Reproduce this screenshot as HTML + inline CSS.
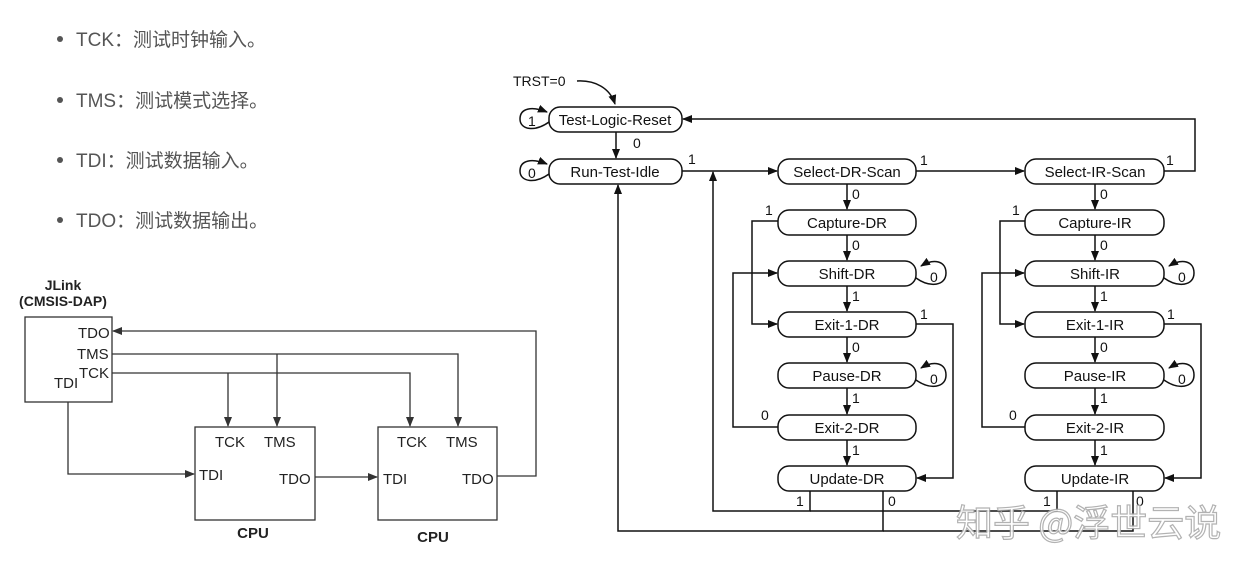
<!DOCTYPE html>
<html><head><meta charset="utf-8"><style>
html,body{margin:0;padding:0;background:#fff;width:1260px;height:572px;overflow:hidden}
svg{display:block}
</style></head><body>
<svg width="1260" height="572" viewBox="0 0 1260 572" xmlns="http://www.w3.org/2000/svg">
<defs>
<marker id="a" markerWidth="10" markerHeight="8" refX="9" refY="4" orient="auto" markerUnits="userSpaceOnUse"><path d="M0,0L10,4L0,8z" fill="#111"/></marker>
<marker id="b" markerWidth="10" markerHeight="8" refX="9" refY="4" orient="auto" markerUnits="userSpaceOnUse"><path d="M0,0L10,4L0,8z" fill="#333"/></marker>
</defs>
<!-- bullets -->
<g font-family="'Liberation Sans','Noto Sans CJK SC',sans-serif" font-size="19" fill="#555">
<circle cx="60" cy="39" r="3" fill="#555"/><text x="76" y="46">TCK：测试时钟输入。</text>
<circle cx="60" cy="100" r="3" fill="#555"/><text x="76" y="107">TMS：测试模式选择。</text>
<circle cx="60" cy="160" r="3" fill="#555"/><text x="76" y="167">TDI：测试数据输入。</text>
<circle cx="60" cy="220" r="3" fill="#555"/><text x="76" y="227">TDO：测试数据输出。</text>
</g>
<!-- JTAG chain -->
<g font-family="'Liberation Sans',sans-serif" fill="#222" stroke="none">
<text x="63" y="290" font-size="14" font-weight="bold" text-anchor="middle">JLink</text>
<text x="63" y="306" font-size="14" font-weight="bold" text-anchor="middle">(CMSIS-DAP)</text>
<g font-size="15">
<text x="78" y="338">TDO</text><text x="77" y="359">TMS</text><text x="79" y="378">TCK</text><text x="54" y="388">TDI</text>
<text x="215" y="447">TCK</text><text x="264" y="447">TMS</text><text x="199" y="480">TDI</text><text x="279" y="484">TDO</text>
<text x="397" y="447">TCK</text><text x="446" y="447">TMS</text><text x="383" y="484">TDI</text><text x="462" y="484">TDO</text>
</g>
<text x="253" y="538" font-size="15" font-weight="bold" text-anchor="middle">CPU</text>
<text x="433" y="542" font-size="15" font-weight="bold" text-anchor="middle">CPU</text>
</g>
<g fill="none" stroke="#333" stroke-width="1.3">
<rect x="25" y="317" width="87" height="85"/>
<rect x="195" y="427" width="120" height="93"/>
<rect x="378" y="427" width="119" height="93"/>
<path d="M497,476H536V331H113" marker-end="url(#b)"/>
<path d="M112,354H458V426" marker-end="url(#b)"/>
<path d="M277,354V426" marker-end="url(#b)"/>
<path d="M112,373H410V426" marker-end="url(#b)"/>
<path d="M228,373V426" marker-end="url(#b)"/>
<path d="M68,402V474H194" marker-end="url(#b)"/>
<path d="M315,477H377" marker-end="url(#b)"/>
</g>
<!-- state machine -->
<g fill="none" stroke="#111" stroke-width="1.5">
<rect x="549" y="107" width="133" height="25" rx="11"/>
<rect x="549" y="159" width="133" height="25" rx="11"/>
<rect x="778" y="159" width="138" height="25" rx="11"/>
<rect x="778" y="210" width="138" height="25" rx="11"/>
<rect x="778" y="261" width="138" height="25" rx="11"/>
<rect x="778" y="312" width="138" height="25" rx="11"/>
<rect x="778" y="363" width="138" height="25" rx="11"/>
<rect x="778" y="415" width="138" height="25" rx="11"/>
<rect x="778" y="466" width="138" height="25" rx="11"/>
<rect x="1025" y="159" width="139" height="25" rx="11"/>
<rect x="1025" y="210" width="139" height="25" rx="11"/>
<rect x="1025" y="261" width="139" height="25" rx="11"/>
<rect x="1025" y="312" width="139" height="25" rx="11"/>
<rect x="1025" y="363" width="139" height="25" rx="11"/>
<rect x="1025" y="415" width="139" height="25" rx="11"/>
<rect x="1025" y="466" width="139" height="25" rx="11"/>
<path d="M577,81C595,80 610,88 615,104" marker-end="url(#a)"/>
<path d="M549,122C535,132 520,130 520,119C520,108 532,106 547,112" marker-end="url(#a)"/>
<path d="M549,174C535,184 520,182 520,171C520,160 532,158 547,164" marker-end="url(#a)"/>
<path d="M916,278C930,288 946,286 946,273C946,261 934,258 921,266" marker-end="url(#a)"/>
<path d="M916,380C930,390 946,388 946,375C946,363 934,360 921,368" marker-end="url(#a)"/>
<path d="M1164,278C1178,288 1194,286 1194,273C1194,261 1182,258 1169,266" marker-end="url(#a)"/>
<path d="M1164,380C1178,390 1194,388 1194,375C1194,363 1182,360 1169,368" marker-end="url(#a)"/>
<path d="M616,132V158" marker-end="url(#a)"/>
<path d="M847,184V209" marker-end="url(#a)"/>
<path d="M847,235V260" marker-end="url(#a)"/>
<path d="M847,286V311" marker-end="url(#a)"/>
<path d="M847,337V362" marker-end="url(#a)"/>
<path d="M847,388V414" marker-end="url(#a)"/>
<path d="M847,440V465" marker-end="url(#a)"/>
<path d="M1095,184V209" marker-end="url(#a)"/>
<path d="M1095,235V260" marker-end="url(#a)"/>
<path d="M1095,286V311" marker-end="url(#a)"/>
<path d="M1095,337V362" marker-end="url(#a)"/>
<path d="M1095,388V414" marker-end="url(#a)"/>
<path d="M1095,440V465" marker-end="url(#a)"/>
<path d="M682,171H777" marker-end="url(#a)"/>
<path d="M916,171H1024" marker-end="url(#a)"/>
<path d="M1164,171H1195V119H683" marker-end="url(#a)"/>
<path d="M778,221H752V324H777" marker-end="url(#a)"/>
<path d="M778,427H733V273H777" marker-end="url(#a)"/>
<path d="M916,324H953V478H917" marker-end="url(#a)"/>
<path d="M1025,221H1000V324H1024" marker-end="url(#a)"/>
<path d="M1025,427H982V273H1024" marker-end="url(#a)"/>
<path d="M1164,324H1201V478H1165" marker-end="url(#a)"/>
<path d="M810,491V511H713V172" marker-end="url(#a)"/>
<path d="M1057,491V511H810"/>
<path d="M883,491V531H618V185" marker-end="url(#a)"/>
<path d="M1133,491V531H883"/>
</g>
<g font-family="'Liberation Sans',sans-serif" font-size="15" fill="#111" text-anchor="middle">
<text x="615" y="125">Test-Logic-Reset</text>
<text x="615" y="177">Run-Test-Idle</text>
<text x="847" y="177">Select-DR-Scan</text>
<text x="847" y="228">Capture-DR</text>
<text x="847" y="279">Shift-DR</text>
<text x="847" y="330">Exit-1-DR</text>
<text x="847" y="381">Pause-DR</text>
<text x="847" y="433">Exit-2-DR</text>
<text x="847" y="484">Update-DR</text>
<text x="1095" y="177">Select-IR-Scan</text>
<text x="1095" y="228">Capture-IR</text>
<text x="1095" y="279">Shift-IR</text>
<text x="1095" y="330">Exit-1-IR</text>
<text x="1095" y="381">Pause-IR</text>
<text x="1095" y="433">Exit-2-IR</text>
<text x="1095" y="484">Update-IR</text>
</g>
<g font-family="'Liberation Sans',sans-serif" font-size="14" fill="#111">
<text x="513" y="86">TRST=0</text>
<text x="528" y="126">1</text><text x="528" y="178">0</text>
<text x="633" y="148">0</text><text x="688" y="164">1</text>
<text x="920" y="165">1</text><text x="1166" y="165">1</text>
<text x="852" y="199">0</text><text x="852" y="250">0</text><text x="852" y="301">1</text><text x="852" y="352">0</text><text x="852" y="403">1</text><text x="852" y="455">1</text>
<text x="1100" y="199">0</text><text x="1100" y="250">0</text><text x="1100" y="301">1</text><text x="1100" y="352">0</text><text x="1100" y="403">1</text><text x="1100" y="455">1</text>
<text x="765" y="215">1</text><text x="1012" y="215">1</text>
<text x="761" y="420">0</text><text x="1009" y="420">0</text>
<text x="920" y="319">1</text><text x="1167" y="319">1</text>
<text x="930" y="282">0</text><text x="930" y="384">0</text><text x="1178" y="282">0</text><text x="1178" y="384">0</text>
<text x="796" y="506">1</text><text x="888" y="506">0</text>
<text x="1043" y="506">1</text><text x="1136" y="506">0</text>
</g>
<text x="956" y="536" font-family="'Noto Sans CJK SC',sans-serif" font-size="37" fill="#fff" stroke="#aaa" stroke-width="1.2" opacity="0.9">知乎 @浮世云说</text>
</svg>
</body></html>
